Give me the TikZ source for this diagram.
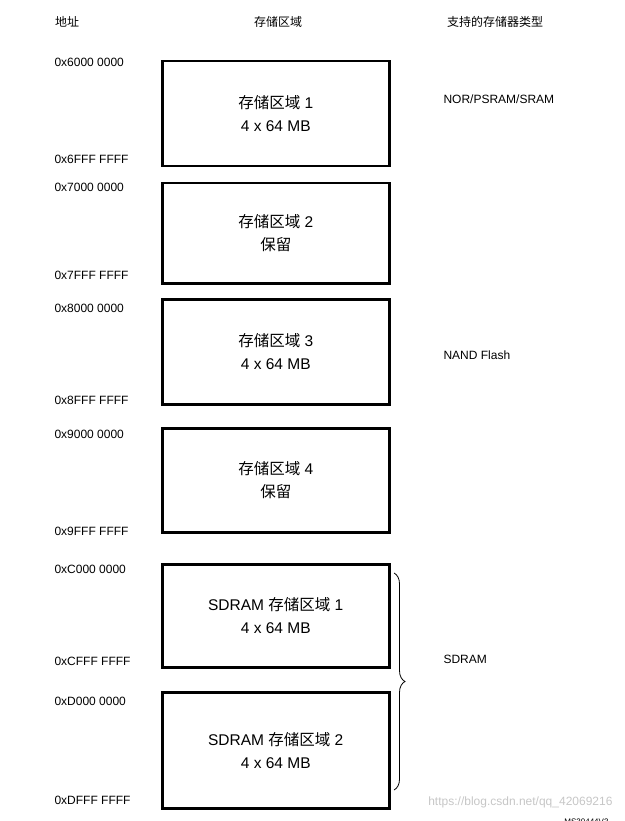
\documentclass[tikz,border=0pt]{standalone}
\usepackage{fontspec}
\setmainfont{Liberation Sans}
\newfontfamily\cjk{Noto Sans CJK SC}
\usetikzlibrary{decorations.pathreplacing}
\begin{document}
\begin{tikzpicture}[x=1pt,y=-1pt,
  box/.style={draw,line width=2.5pt,minimum width=227pt,anchor=north west,align=center,font=\fontsize{15.5}{23}\selectfont,inner sep=0pt},
  addr/.style={anchor=west,font=\fontsize{12}{14}\selectfont},
  hdr/.style={font=\cjk\fontsize{12}{14}\selectfont},
  typ/.style={anchor=west,font=\fontsize{12}{14}\selectfont}]
\useasboundingbox (0,0) rectangle (624,821);
\node[hdr] (h1) at (67,22) {地址};
\node[hdr] (h2) at (278,22) {存储区域};
\node[hdr] (h3) at (495,22) {支持的存储器类型};
\node[box,minimum height=105pt] (b1) at (161,60) {{\cjk 存储区域} 1\\4 x 64 MB};
\node[box,minimum height=100pt] (b2) at (161,182) {{\cjk 存储区域} 2\\{\cjk 保留}};
\node[box,minimum height=105pt] (b3) at (161,298) {{\cjk 存储区域} 3\\4 x 64 MB};
\node[box,minimum height=104pt] (b4) at (161,427) {{\cjk 存储区域} 4\\{\cjk 保留}};
\node[box,minimum height=103pt] (b5) at (161,563) {SDRAM {\cjk 存储区域} 1\\4 x 64 MB};
\node[box,minimum height=116pt] (b6) at (161,691) {SDRAM {\cjk 存储区域} 2\\4 x 64 MB};
\node[addr] (a1) at (51,62) {0x6000 0000};
\node[addr] (a2) at (51,159) {0x6FFF FFFF};
\node[addr] (a3) at (51,187) {0x7000 0000};
\node[addr] (a4) at (51,275) {0x7FFF FFFF};
\node[addr] (a5) at (51,308) {0x8000 0000};
\node[addr] (a6) at (51,400) {0x8FFF FFFF};
\node[addr] (a7) at (51,434) {0x9000 0000};
\node[addr] (a8) at (51,531) {0x9FFF FFFF};
\node[addr] (a9) at (51,569) {0xC000 0000};
\node[addr] (a10) at (51,661) {0xCFFF FFFF};
\node[addr] (a11) at (51,701) {0xD000 0000};
\node[addr] (a12) at (51,800) {0xDFFF FFFF};
\node[typ] (t1) at (440,99) {NOR/PSRAM/SRAM};
\node[typ] (t2) at (440,355) {NAND Flash};
\node[typ] (t3) at (440,659) {SDRAM};
\coordinate (br1) at (394,573);
\coordinate (br2) at (394,790);
\draw[line width=0.8pt,decorate,decoration={brace,amplitude=11pt}] (br1) -- (br2);
\node[anchor=east,text=gray!45,font=\fontsize{12}{14}\selectfont] (wm) at (616,802) {https://blog.csdn.net/qq\_42069216};
\node[anchor=east,font=\fontsize{8}{9}\selectfont] (ms) at (612,822) {MS30444V3};
\end{tikzpicture}
\end{document}
